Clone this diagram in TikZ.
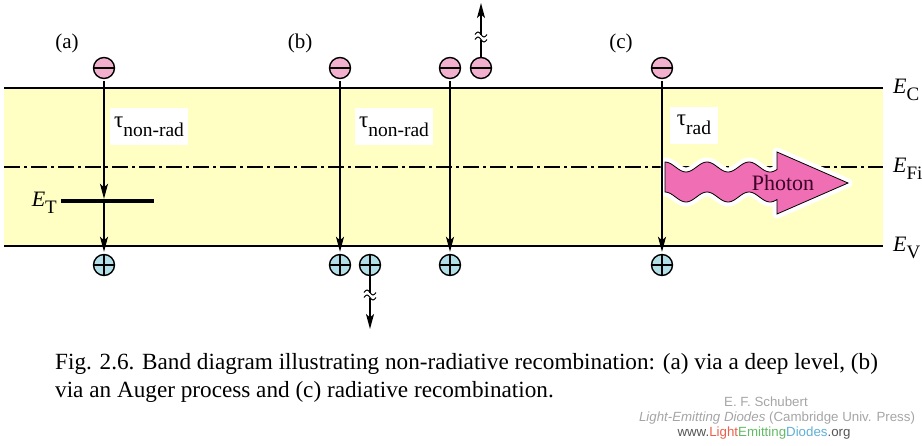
\documentclass[tikz,border=0pt]{standalone}
\usepackage{fontspec}
\setmainfont{Liberation Serif}
\newfontfamily\credfont{Liberation Sans}
\usetikzlibrary{arrows.meta}
\definecolor{bandyel}{RGB}{255,255,196}
\definecolor{epink}{RGB}{242,176,206}
\definecolor{hblue}{RGB}{178,222,232}
\definecolor{phpink}{RGB}{240,110,180}
\definecolor{credgray}{RGB}{165,165,165}
\definecolor{wwwgray}{RGB}{85,85,85}
\definecolor{lightred}{RGB}{235,95,75}
\definecolor{emgreen}{RGB}{100,185,100}
\definecolor{diblue}{RGB}{95,175,215}
\newcommand{\lvl}[2]{\textit{#1}\raisebox{-0.32em}{\fontsize{19}{19}\selectfont #2}}
\newcommand{\taulbl}[1]{τ\raisebox{-0.38em}{\fontsize{19.5}{19.5}\selectfont #1}}
\tikzset{
  elec/.style={circle, draw=black, line width=1.4pt, fill=epink, minimum size=21pt, inner sep=0pt,
    path picture={\draw[line width=2.8pt] ([xshift=-11pt]path picture bounding box.center) -- ([xshift=11pt]path picture bounding box.center);}},
  hole/.style={circle, draw=black, line width=1.4pt, fill=hblue, minimum size=21pt, inner sep=0pt,
    path picture={\draw[line width=2.3pt] ([xshift=-11pt]path picture bounding box.center) -- ([xshift=11pt]path picture bounding box.center)
      ([yshift=-11pt]path picture bounding box.center) -- ([yshift=11pt]path picture bounding box.center);}},
  arr/.style={line width=1.3pt, -{Stealth[length=15pt,width=8pt,inset=3.5pt]}},
  band/.style={line width=2pt},
  tbox/.style={fill=white, inner sep=0pt, minimum height=37pt, font=\fontsize{23}{23}\selectfont},
  lbl/.style={font=\fontsize{21}{21}\selectfont},
  lvlst/.style={font=\fontsize{22}{22}\selectfont, inner sep=0pt},
  captxt/.style={font=\fontsize{23.2}{26}\selectfont, anchor=base west, inner sep=0pt},
  cred/.style={font=\credfont\fontsize{13.3}{13.3}\selectfont, text=credgray, inner sep=0pt},
  brk/.pic={
    \fill[white] (-6,-2.5) rectangle (6,2.5);
    \draw[line width=1pt] (-6,-2.5) sin (-3,-5) cos (0,-2.5) sin (3,0) cos (6,-2.5);
    \draw[line width=1pt] (-6,2.5) sin (-3,0) cos (0,2.5) sin (3,5) cos (6,2.5);}
}
\begin{document}
\begin{tikzpicture}[x=1pt,y=-1pt]
\useasboundingbox (0,0) rectangle (922,445);
% band
\fill[bandyel] (4,88) rectangle (883,246);
\draw[band] (4,88) -- (883,88);
\draw[band] (4,246) -- (883,246);
\draw[line width=1.3pt, dash pattern=on 16pt off 4pt on 3pt off 4pt] (4,167) -- (883,167);
% photon
\path[fill=phpink, draw=black, line width=0.8pt, preaction={draw=white, line width=9pt, line join=round}]
  plot[domain=665:777, samples=60, smooth] (\x, {167-5*cos((\x-665)/42*360)})
  -- (777,152) -- (848,183) -- (777,214)
  -- plot[domain=777:665, samples=60, smooth] (\x, {197-5*cos((\x-665)/42*360)}) -- cycle;
\node[font=\fontsize{22}{22}\selectfont, text={rgb,255:red,60;green,0;blue,40}] (ph) at (783,183) {Photon};
% labels
\node[lbl] (la) at (67,43) {(a)};
\node[lbl] (lb) at (300,43) {(b)};
\node[lbl] (lc) at (621,43) {(c)};
\node[lvlst, anchor=west] (EC) at (893,90) {\lvl{E}{C}};
\node[lvlst, anchor=west] (EF) at (893,169) {\lvl{E}{Fi}};
\node[lvlst, anchor=west] (EV) at (893,248) {\lvl{E}{V}};
% trap level
\node[fill=black, minimum width=93pt, minimum height=4pt, inner sep=0pt] (ET) at (107.5,201) {};
\node[lvlst, anchor=east] (ETl) at (57,203) {\lvl{E}{T}};
% tau boxes
\node[tbox, minimum width=78pt] (ta) at (149,126.5) {\taulbl{non-rad}};
\node[tbox, minimum width=78pt] (tb) at (394,126.5) {\taulbl{non-rad}};
\node[tbox, minimum width=48pt] (tc) at (694,125) {\taulbl{rad}};
% carriers
\node[elec] (ea) at (104,68) {};
\node[elec] (eb1) at (340,68) {};
\node[elec] (eb2) at (450,68) {};
\node[elec] (eb3) at (481,68) {};
\node[elec] (ec) at (662,68) {};
\node[hole] (ha) at (104,265) {};
\node[hole] (hb1) at (340,265) {};
\node[hole] (hb2) at (370,265) {};
\node[hole] (hb3) at (450,265) {};
\node[hole] (hc) at (662,265) {};
\coordinate (up) at (481,3);
\coordinate (down) at (370,329);
% arrows
\draw[arr, shorten <=2pt] (ea) -- (ea |- ET.north);
\draw[arr, shorten >=2pt] (ea |- ET.south) -- (ha);
\draw[arr, shorten <=2pt, shorten >=2pt] (eb1) -- (hb1);
\draw[arr, shorten <=2pt, shorten >=2pt] (eb2) -- (hb3);
\draw[arr, shorten <=2pt, shorten >=2pt] (ec) -- (hc);
\draw[arr] (eb3) -- (up);
\draw[arr] (hb2) -- (down);
\pic at (481,37) {brk};
\pic at (370,295) {brk};
% caption
\node[captxt] (cap1) at (55,369) {Fig. 2.6. Band diagram illustrating non-radiative recombination: (a) via a deep level, (b)};
\node[captxt] (cap2) at (55,397) {via an Auger process and (c) radiative recombination.};
% credits
\node[cred] (cr1) at (766,402) {E. F. Schubert};
\node[cred] (cr2) at (777,418) {\textit{Light-Emitting Diodes} (Cambridge Univ. Press)};
\node[cred, text=wwwgray] (cr3) at (764,433) {www.\textcolor{lightred}{Light}\textcolor{emgreen}{Emitting}\textcolor{diblue}{Diodes}.org};
\end{tikzpicture}
\end{document}
